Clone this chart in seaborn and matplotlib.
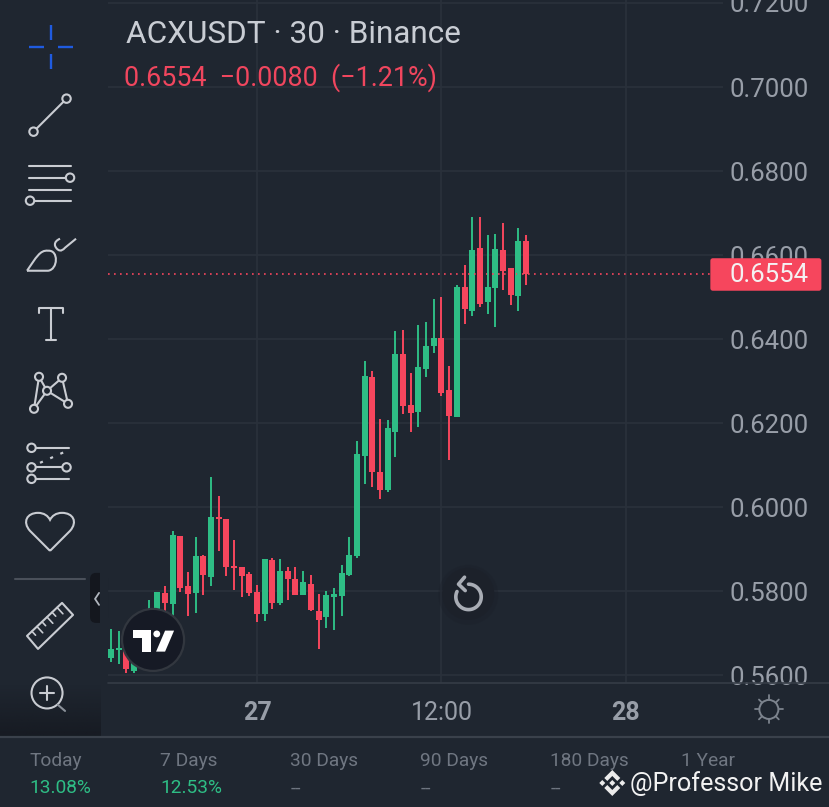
import numpy as np
import pandas as pd
import matplotlib
matplotlib.use("Agg")
import matplotlib.pyplot as plt
from matplotlib.patches import Circle, FancyBboxPatch, Polygon, PathPatch
from matplotlib.path import Path
import seaborn as sns

# ---------------------------------------------------------
# 1. Data
# ---------------------------------------------------------
SYMBOL = "ACXUSDT · 30 · Binance"
QUOTE = "0.6554  −0.0080  (−1.21%)"
LAST_PRICE = 0.6554
opens = [.5640, .5660, .5660, .5610, .5683, .5719, .5750, .5795, .5769, .5931, .5812,
         .5795, .5883, .5833, .5977, .5971, .5860, .5857, .5840, .5798, .5746, .5874,
         .5772, .5848, .5829, .5790, .5817, .5751, .5738, .5786, .5788, .5838, .5883,
         .6121, .6310, .6084, .6040, .6179, .6364, .6243, .6225, .6329, .6383, .6402,
         .6279, .6215, .6524, .6467, .6615, .6488, .6522, .6612, .6569, .6502, .6633]
highs = [.5710, .5705, .5664, .5636, .5750, .5779, .5798, .5812, .5943, .5931, .5844,
         .5929, .5886, .6071, .6025, .5971, .5921, .5857, .5845, .5814, .5876, .5879,
         .5876, .5857, .5857, .5848, .5838, .5793, .5800, .5807, .5862, .5929, .6157,
         .6348, .6324, .6210, .6207, .6419, .6422, .6319, .6433, .6440, .6495, .6500,
         .6336, .6529, .6575, .6690, .6690, .6648, .6650, .6676, .6569, .6663, .6648]
lows = [.5631, .5626, .5605, .5605, .5671, .5707, .5731, .5753, .5741, .5798, .5740,
        .5748, .5790, .5812, .5894, .5836, .5801, .5785, .5788, .5727, .5729, .5757,
        .5767, .5779, .5790, .5790, .5753, .5662, .5712, .5707, .5741, .5836, .5879,
        .6055, .6048, .6019, .6036, .6119, .6221, .6179, .6190, .6310, .6367, .6264,
        .6112, .6214, .6436, .6455, .6475, .6460, .6429, .6517, .6481, .6467, .6529]
closes = [.5662, .5664, .5614, .5631, .5731, .5752, .5798, .5772, .5932, .5808, .5793,
          .5883, .5838, .5977, .5971, .5857, .5855, .5836, .5795, .5745, .5876, .5772,
          .5848, .5829, .5790, .5822, .5755, .5731, .5790, .5793, .5843, .5886, .6126,
          .6312, .6084, .6040, .6188, .6363, .6239, .6224, .6333, .6383, .6401, .6271,
          .6217, .6524, .6470, .6612, .6483, .6524, .6614, .6562, .6505, .6633, .6554]
price_ticks = [0.56, 0.58, 0.60, 0.62, 0.64, 0.66, 0.68, 0.70, 0.72]
time_ticks = [19, 43, 67]
time_labels = ["27", "12:00", "28"]
stat_names = ["Today", "7 Days", "30 Days", "90 Days", "180 Days", "1 Year"]
stat_values = ["13.08%", "12.53%", "--", "--", "--", "--"]

BG = "#1f2630"
GRID = "#2a313b"
GREEN = "#2ebd85"
RED = "#f6465d"
ICON = "#c9ccd2"
AXIS_TEXT = "#989ea8"
FONT = "Roboto"

W, H = 829, 807
sns.set_theme(style="dark", rc={"axes.facecolor": BG, "figure.facecolor": BG})
plt.rcParams["font.family"] = [FONT, "DejaVu Sans"]

# ---------------------------------------------------------
# 2. Candles
# ---------------------------------------------------------
df = pd.DataFrame({"i": range(len(opens)), "open": opens, "high": highs, "low": lows, "close": closes})
df["dir"] = np.where(df["close"] >= df["open"], "up", "down")
df["bottom"] = df[["open", "close"]].min(axis=1)
df["body"] = (df["close"] - df["open"]).abs()
wicks = df.melt(id_vars=["i", "dir"], value_vars=["high", "low"], value_name="price")

fig = plt.figure(figsize=((W + 0.4) / 100, (H + 0.4) / 100), dpi=100)
ax = fig.add_axes([108 / W, 1 - 683 / H, (723 - 108) / W, 683 / H])

ax.set_axisbelow(True)
sns.lineplot(data=wicks, x="i", y="price", hue="dir", units="i", estimator=None,
             palette={"up": GREEN, "down": RED}, linewidth=1.4, legend=False,
             solid_capstyle="butt", ax=ax)
for name, colour in [("up", GREEN), ("down", RED)]:
    part = df[df["dir"] == name]
    sns.barplot(data=part, x="i", y="body", bottom=part["bottom"].values, color=colour,
                native_scale=True, width=0.78, saturation=1, errorbar=None,
                linewidth=0, legend=False, ax=ax)

ax.set_xlim((108 - 111) / 7.68, (723 - 111) / 7.68)
ax.set_ylim(0.55810, 0.72071)
ax.set_xlabel("")
ax.set_ylabel("")
for s in ax.spines.values():
    s.set_visible(False)
ax.yaxis.tick_right()
ax.set_yticks(price_ticks, [f"{p:.4f}" for p in price_ticks])
ax.set_xticks(time_ticks, time_labels)
ax.tick_params(axis="y", length=0, pad=4.5, labelsize=18.5, labelcolor=AXIS_TEXT)
ax.tick_params(axis="x", length=0, pad=13, labelsize=18, labelcolor=AXIS_TEXT)
for lab in ax.get_xticklabels():
    if lab.get_text() != "12:00":
        lab.set_fontweight("bold")
ax.grid(True, color=GRID, linewidth=1.3)
ax.axhline(LAST_PRICE, color=RED, linewidth=1.2, linestyle=(0, (1, 2.6)), zorder=1)

# ---------------------------------------------------------
# 3. App chrome on a pixel overlay
# ---------------------------------------------------------
ui = fig.add_axes([0, 0, 1, 1], zorder=5)
ui.patch.set_visible(False)
ui.axis("off")

fade = np.zeros((40, 2, 4))
fade[..., :3] = matplotlib.colors.to_rgb("#14171e")
fade[..., 3] = np.linspace(0, 0.75, 40)[:, None]
ui.imshow(fade, extent=(0, 100, 737, 685), aspect="auto", zorder=0)
ui.set_xlim(0, W)
ui.set_ylim(H, 0)


def seg(pts, color=ICON, lw=1.5, **kw):
    xs, ys = zip(*pts)
    ui.plot(xs, ys, color=color, lw=lw, solid_capstyle=kw.pop("cap", "round"), **kw)


def dot(x, y, r=4.2, ec=ICON, lw=1.5, fc=BG):
    ui.add_patch(Circle((x, y), r, fc=fc, ec=ec, lw=lw, zorder=4))


seg([(108, 683), (829, 683)], color="#353c46", lw=1.2)
seg([(0, 737), (829, 737)], color="#3a414b", lw=1.6)

# crosshair
BLUE = "#1f5be0"
seg([(51, 25), (51, 40)], BLUE, 1.7, cap="butt")
seg([(51, 54), (51, 69)], BLUE, 1.7, cap="butt")
seg([(29, 47), (44, 47)], BLUE, 1.7, cap="butt")
seg([(58, 47), (73, 47)], BLUE, 1.7, cap="butt")
# trend line
seg([(33.5, 132), (66.5, 99)])
dot(66.5, 99)
dot(33.5, 132)
# parallel lines
seg([(29, 166), (71, 166)])
seg([(29, 178), (68, 178)])
seg([(29, 190), (71, 190)])
seg([(32, 201), (71, 201)])
dot(70, 178)
dot(30, 201)
# brush
verts = [(27, 271), (48, 271), (58, 270), (59, 250), (48, 251), (40, 250), (36, 258), (27, 271)]
codes = [Path.MOVETO, Path.LINETO, Path.CURVE4, Path.CURVE4, Path.CURVE4, Path.CURVE4, Path.CURVE4, Path.CURVE4]
ui.add_patch(PathPatch(Path(verts, codes), fc="none", ec=ICON, lw=1.5))
verts = [(60, 239), (53, 242), (54, 247), (58, 250), (61, 252), (63, 250), (65, 248), (76, 239)]
codes = [Path.MOVETO, Path.CURVE4, Path.CURVE4, Path.CURVE4, Path.CURVE4, Path.CURVE4, Path.CURVE4, Path.LINETO]
ui.add_patch(PathPatch(Path(verts, codes), fc="none", ec=ICON, lw=1.5))
# text tool
seg([(39, 313), (39, 308), (63, 308), (63, 313)])
seg([(51, 308), (51, 340)])
seg([(46, 340), (56, 340)])
# pattern tool
nodes = [(39, 377), (62, 378), (47, 391), (34, 409), (68, 404)]
for a, b in [(0, 2), (2, 1), (0, 3), (2, 3), (1, 4), (2, 4)]:
    seg([nodes[a], nodes[b]])
for n in nodes:
    dot(*n, r=4)
# fib tool
seg([(35, 448), (69, 448)])
seg([(35, 467.5), (63, 467.5)])
seg([(35, 479), (69, 479)])
seg([(40, 463), (67, 451)], lw=1.6, linestyle=(0, (1.4, 3.6)))
dot(31.5, 448)
dot(31.5, 467.5)
dot(66.5, 467.5)
dot(31.5, 479)
# heart
verts = [(50, 551), (30, 531), (22, 522), (27, 513), (38, 513), (44, 513), (48, 516), (50, 520),
         (52, 516), (56, 513), (62, 513), (73, 513), (78, 522), (70, 531), (50, 551)]
codes = [Path.MOVETO, Path.LINETO] + [Path.CURVE4] * 12 + [Path.LINETO]
ui.add_patch(PathPatch(Path(verts, codes), fc="none", ec=ICON, lw=1.5))
seg([(15, 579), (85, 579)], color="#4a505a")
# collapse handle
ui.add_patch(FancyBboxPatch((90, 573), 18, 50, boxstyle="round,pad=0,rounding_size=6", fc="#14171e", ec="none"))
ui.add_patch(plt.Rectangle((100, 570), 8, 56, fc=BG, ec="none"))
seg([(99, 593), (95, 599), (99, 605)], color="#b0b5bd", lw=1.3)
# ruler
ui.add_patch(Polygon([(27, 636), (62, 603), (73, 615), (38, 649)], closed=True, fc="none", ec=ICON, lw=1.5, joinstyle="round"))
for k, t in enumerate(np.linspace(0.14, 0.86, 6)):
    p = np.array([27, 636]) + t * np.array([35, -33])
    d = np.array([3.6, 3.9]) * (1.6 if k % 2 else 1.0)
    seg([tuple(p), tuple(p + d)], lw=1.2)
# zoom
ui.add_patch(Circle((47, 693), 15.5, fc="none", ec=ICON, lw=1.5))
seg([(40, 693), (54, 693)])
seg([(47, 686), (47, 700)])
seg([(58, 705), (65, 711)], color="#8a9099")

# TradingView badge
ui.add_patch(Circle((153, 640), 31, fc="#161a25", ec="#32373f", lw=1.6, zorder=3))
ui.add_patch(Polygon([(132.7, 630), (150.7, 630), (150.7, 651.7), (141.7, 651.7), (141.7, 638.3), (132.7, 638.3)], fc="white", ec="none", zorder=4))
ui.add_patch(Circle((156.7, 634), 3.4, fc="white", ec="none", zorder=4))
ui.add_patch(Polygon([(165, 630.7), (174, 630.7), (165, 651.7), (156, 651.7)], fc="white", ec="none", zorder=4))

# reset button
ui.add_patch(Circle((468, 595), 30, fc="#1b2029", ec="none", alpha=0.35))
ui.add_patch(Circle((468, 594), 26, fc="#1c212a", ec="none"))
theta = np.radians(np.linspace(-90, 205, 60))
arc = list(zip(468.3 + 12.7 * np.cos(theta), 597 + 12.7 * np.sin(theta)))
seg(arc, color="#a9adb5", lw=2.6)
seg([(464.3, 577.3), (458.3, 584.3), (465, 590.7)], color="#a9adb5", lw=2.6)

# settings gear
SUN = "#7c838d"
ui.add_patch(Circle((768.5, 709.5), 9.5, fc="none", ec=SUN, lw=1.4))
for a in np.radians(np.arange(0, 360, 45)):
    seg([(768.5 + 10 * np.cos(a), 709.5 + 10 * np.sin(a)), (768.5 + 14 * np.cos(a), 709.5 + 14 * np.sin(a))], color=SUN, lw=1.3)

# last price tag
ui.add_patch(FancyBboxPatch((710, 258.5), 111, 32.5, boxstyle="round,pad=0,rounding_size=2.5", fc=RED, ec="none", zorder=4))
ui.text(769, 275, f"{LAST_PRICE:.4f}", color="#f4f1f2", fontsize=18.5, ha="center", va="center", zorder=5)

# header
ui.text(126, 34.5, SYMBOL, color="#c9cdd4", fontsize=22.7, va="center", ha="left")
ui.text(124, 77.5, QUOTE, color="#f0465e", fontsize=19.4, va="center", ha="left")

# performance strip
for x, name, val in zip([29, 160, 290, 420, 550, 681], stat_names, stat_values):
    ui.text(x, 761, name, color="#6f7681", fontsize=13.8, va="center", ha="left")
    ui.text(x, 788, val, color=GREEN if val != "--" else "#6f7681", fontsize=13.8, va="center", ha="left")

# watermark
cx, cy = 612, 783
WM = "#ebebeb"
for sign in (-1, 1):
    ui.add_patch(Polygon([(cx - 8, cy + sign * 5), (cx, cy + sign * 13), (cx + 8, cy + sign * 5), (cx + 5, cy + sign * 2),
                          (cx, cy + sign * 7), (cx - 5, cy + sign * 2)], fc=WM, ec="none", zorder=6))
    ui.add_patch(Polygon([(cx + sign * 13, cy), (cx + sign * 10, cy - 3), (cx + sign * 7, cy), (cx + sign * 10, cy + 3)], fc=WM, ec="none", zorder=6))
ui.add_patch(Polygon([(cx - 3, cy), (cx, cy - 3), (cx + 3, cy), (cx, cy + 3)], fc=WM, ec="none", zorder=6))
ui.text(630, 783, "@Professor Mike", color="#f2f2f2", fontsize=18.1, va="center", ha="left", zorder=6)

fig.savefig("out.png", dpi=100, facecolor=BG)
